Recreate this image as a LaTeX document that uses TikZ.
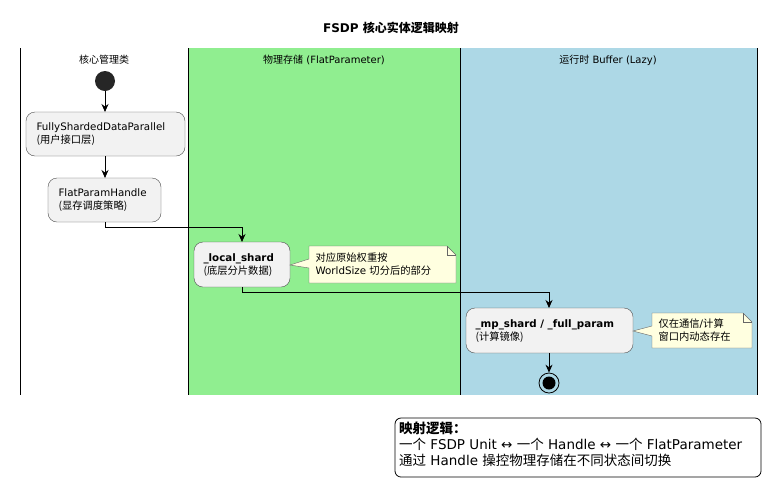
\documentclass[tikz,border=0pt]{standalone}
\usepackage{fontspec}
\setmainfont{DejaVu Sans}
\newfontfamily\cjk{Noto Sans CJK SC}
\usetikzlibrary{arrows.meta}
\definecolor{lgreen}{RGB}{144,238,144}
\definecolor{lblue}{RGB}{173,216,230}
\definecolor{notey}{RGB}{255,255,224}
\begin{document}
\begin{tikzpicture}[x=1pt,y=-1pt,
  act/.style={draw=black!70,fill=black!5,rounded corners=9pt},
  txt/.style={anchor=west,font=\fontsize{10.3}{13}\selectfont,align=left},
  flow/.style={-{Stealth[length=8pt,width=7pt]},thick},
  hdr/.style={font=\fontsize{10}{12}\selectfont}]
\useasboundingbox (0,0) rectangle (783,499);
\fill[white] (0,0) rectangle (783,499);
\fill[lgreen] (188,48) rectangle (460,395);
\fill[lblue] (460,48) rectangle (757,395);
\foreach \x in {20,188,460,757} \draw[thick] (\x,48) -- (\x,395);
\node[font=\bfseries\fontsize{12}{14}\selectfont] (title) at (391,28) {FSDP {\cjk\bfseries 核心实体逻辑映射}};
\node[hdr] (h1) at (104,60) {\cjk 核心管理类};
\node[hdr] (h2) at (324,60) {{\cjk 物理存储} (FlatParameter)};
\node[hdr] (h3) at (608,60) {{\cjk 运行时} Buffer (Lazy)};
\node[circle,fill=black!85,minimum size=20pt,inner sep=0pt] (start) at (105,81) {};
\draw[act] (26,112) rectangle (185,156);
\node[txt] (fsdp) at (33,134) {FullyShardedDataParallel\\{\cjk (用户接口层)}};
\coordinate (fsdpT) at (105,112); \coordinate (fsdpB) at (105,156);
\draw[act] (48,178) rectangle (161,222);
\node[txt] (h) at (55,200) {FlatParamHandle\\{\cjk (显存调度策略)}};
\coordinate (hT) at (105,178); \coordinate (hB) at (105,222);
\draw[act] (194,242) rectangle (290,287);
\node[txt] (ls) at (200,265) {\textbf{\_local\_shard}\\{\cjk (底层分片数据)}};
\coordinate (lsT) at (242,242); \coordinate (lsB) at (242,287);
\draw[act] (466,308) rectangle (633,353);
\node[txt] (mp) at (472,331) {\textbf{\_mp\_shard / \_full\_param}\\{\cjk (计算镜像)}};
\coordinate (mpT) at (549,308); \coordinate (mpB) at (549,353);
\draw[fill=notey,draw=black!60] (309,246) -- (447,246) -- (456,255) -- (456,283) -- (309,283) -- (309,268) -- (290,265) -- (309,259) -- cycle;
\draw[draw=black!60] (447,246) -- (447,255) -- (456,255);
\node[txt] (n1) at (312,264.5) {{\cjk 对应原始权重按}\\WorldSize {\cjk 切分后的部分}};
\draw[fill=notey,draw=black!60] (652,313) -- (743,313) -- (752,322) -- (752,348) -- (652,348) -- (652,336) -- (633,331) -- (652,326) -- cycle;
\draw[draw=black!60] (743,313) -- (743,322) -- (752,322);
\node[txt] (n2) at (655,330.5) {{\cjk 仅在通信}/{\cjk 计算}\\{\cjk 窗口内动态存在}};
\node[circle,draw=black,thick,minimum size=20pt,inner sep=0pt] (end) at (549,383) {};
\node[circle,fill=black,minimum size=13pt,inner sep=0pt] (endin) at (end) {};
\draw[flow] (start) -- (fsdpT);
\draw[flow] (fsdpB) -- (hT);
\draw[flow] (hB) -- (105,227) -- (242,227) -- (lsT);
\draw[flow] (lsB) -- (242,292) -- (549,292) -- (mpT);
\draw[flow] (mpB) -- (end);
\draw[thick,rounded corners=6pt] (395,418) rectangle (761,477);
\node[anchor=north west,align=left,font=\fontsize{13.5}{16}\selectfont,inner sep=0pt] (leg) at (399,422) {{\cjk\bfseries 映射逻辑：}\\{\cjk 一个} FSDP Unit ↔ {\cjk 一个} Handle ↔ {\cjk 一个} FlatParameter\\{\cjk 通过} Handle {\cjk 操控物理存储在不同状态间切换}};
\end{tikzpicture}
\end{document}
